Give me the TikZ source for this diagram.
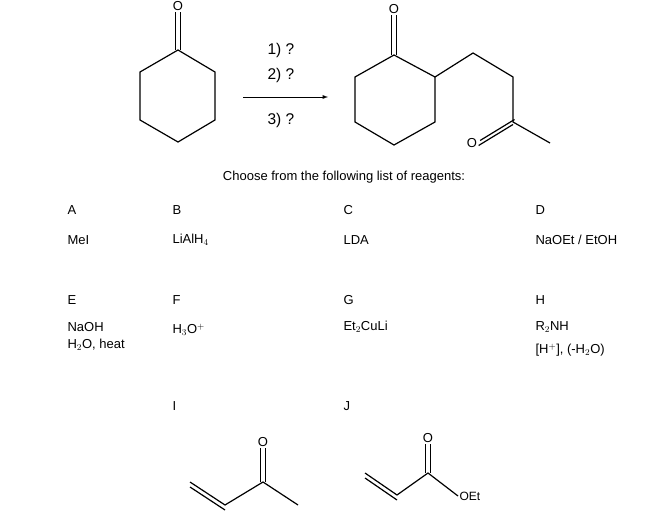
\documentclass[tikz,border=0pt]{standalone}
\usepackage{fontspec}
\setmainfont{Liberation Sans}
\begin{document}
\begin{tikzpicture}[x=1pt,y=-1pt,line width=1.1pt,
  bond/.style={line width=1.2pt},
  lbl/.style={anchor=west,inner sep=0pt,font=\fontsize{13}{15}\selectfont},
  big/.style={anchor=west,inner sep=0pt,font=\fontsize{15.5}{17}\selectfont},
  atom/.style={inner sep=1pt,font=\fontsize{13}{15}\selectfont,fill=white}]
\useasboundingbox (0,0) rectangle (653,513);
% reactant
\node[atom] (o1) at (178,6) {O};
\coordinate (r1) at (178,50);
\draw[bond] (r1)--(215,72)--(215,120)--(178,142)--(140,120)--(140,72)--cycle;
\draw[bond] ([xshift=-2.5pt]r1)--([xshift=-2.5pt]o1.south);
\draw[bond] ([xshift=2.5pt]r1)--([xshift=2.5pt]o1.south);
% arrow
\coordinate (a1) at (243,97); \coordinate (a2) at (328,97);
\draw[-latex,line width=0.9pt] (a1)--(a2);
\node[big] (s1) at (267,50) {1) ?};
\node[big] (s2) at (267,75) {2) ?};
\node[big] (s3) at (267,120) {3) ?};
% product
\node[atom] (o2) at (394,9) {O};
\coordinate (p1) at (394,55);
\draw[bond] (p1)--(435,77)--(435,122)--(394,145)--(355,122)--(355,77)--cycle;
\draw[bond] ([xshift=-2.5pt]p1)--([xshift=-2.5pt]o2.south);
\draw[bond] ([xshift=2.5pt]p1)--([xshift=2.5pt]o2.south);
\coordinate (k) at (513,122);
\draw[bond] (435,77)--(473,53)--(513,77)--(k)--(550,143);
\node[atom] (o3) at (472,143) {O};
\draw[bond] ([yshift=-2.5pt]k)--([yshift=-2.5pt]o3.east);
\draw[bond] ([shift={(1.5pt,2.5pt)}]k)--([shift={(1.5pt,2.5pt)}]o3.east);
\node[lbl,anchor=center] (t) at (344,177) {Choose from the following list of reagents:};
% table
\foreach \n/\x/\y/\t in {A/67/210/A,B/172/210/B,C/343/210/C,D/535/210/D,
  E/67/300/E,F/172/300/F,G/343/300/G,H/535/300/H,I/172/406/I,J/343/406/J,
  mei/67/240/MeI,lah/172/240/{LiAlH$_4$},lda/343/240/LDA,nao/535/240/{NaOEt / EtOH},
  naoh/67/327/NaOH,h2o/67/345/{H$_2$O, heat},h3o/172/330/{H$_3$O$^+$},
  cu/343/327/{Et$_2$CuLi},r2/535/327/{R$_2$NH},hp/535/350/{[H$^+$], (-H$_2$O)}}
  \node[lbl] (\n) at (\x,\y) {\t};
% MVK
\node[atom] (o4) at (263,442) {O};
\coordinate (m1) at (190,482); \coordinate (m2) at (225,505); \coordinate (m3) at (263,482);
\draw[bond] (m1)--(m2)--(m3)--(298,505);
\draw[bond] ([yshift=-5pt]m1)--([yshift=-5pt]m2);
\draw[bond] ([xshift=-2.5pt]m3)--([xshift=-2.5pt]o4.south);
\draw[bond] ([xshift=2.5pt]m3)--([xshift=2.5pt]o4.south);
% ethyl acrylate
\node[atom] (o5) at (428,438) {O};
\node[atom,anchor=west,font=\fontsize{12}{14}\selectfont] (oe) at (458,496) {OEt};
\coordinate (e1) at (365,473); \coordinate (e2) at (397,495); \coordinate (e3) at (428,473);
\draw[bond] (e1)--(e2)--(e3)--(oe.west);
\draw[bond] ([yshift=-5pt]e1)--([yshift=-5pt]e2);
\draw[bond] ([xshift=-2.5pt]e3)--([xshift=-2.5pt]o5.south);
\draw[bond] ([xshift=2.5pt]e3)--([xshift=2.5pt]o5.south);
\end{tikzpicture}
\end{document}
